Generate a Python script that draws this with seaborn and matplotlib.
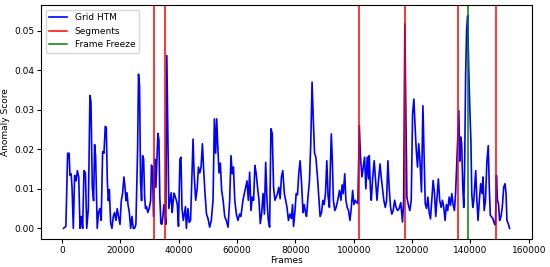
import pandas as pd
import matplotlib
matplotlib.use("Agg")
import matplotlib.pyplot as plt
import seaborn as sns

# Grid HTM anomaly score
frames = [
    500, 1300, 1900, 2400, 2700, 3100, 3400, 3850, 4300, 4800,
    5250, 5700, 6150, 6600, 7050, 7500, 8000, 8450, 9000, 9550,
    9900, 10350, 10800, 11150, 11500, 12050, 12500, 12950, 13400, 13900,
    14350, 14800, 15150, 15500, 15850, 16200, 16650, 17100, 17550, 18000,
    18450, 18900, 19350, 19850, 20300, 20750, 21200, 21550, 21900, 22250,
    22600, 23050, 23500, 23950, 24400, 24850, 25300, 25900, 26200, 26550,
    26900, 27250, 27600, 27950, 28300, 28600, 28950, 29400, 29850, 30350,
    30650, 31000, 31350, 31800, 32150, 32500, 32850, 33200, 33500, 33850,
    34200, 34550, 34900, 35250, 35550, 35900, 36250, 36600, 37000, 37400,
    37750, 38100, 38400, 38800, 39200, 39500, 39900, 40400, 40750, 41100,
    41550, 42000, 42300, 42600, 43150, 43600, 44050, 44900, 45250, 45800,
    46300, 46750, 47200, 47650, 48100, 48550, 49000, 49500, 50050, 50600,
    51150, 51750, 52200, 52650, 53000, 53400, 53800, 54250, 54700, 55200,
    55750, 56300, 56900, 57450, 57900, 58350, 58750, 59200, 59750, 60300,
    60850, 61300, 62000, 62700, 63400, 63850, 64300, 64750, 65200, 65650,
    66100, 66550, 67000, 67500, 67950, 68400, 68900, 69350, 69800, 70250,
    70700, 71150, 71600, 72050, 72500, 72950, 73400, 73850, 74300, 74750,
    75200, 75650, 76200, 76650, 77100, 77600, 78100, 78600, 79000, 79350,
    79800, 80250, 80700, 81150, 81600, 82050, 82600, 83000, 83450, 83800,
    84300, 84800, 85250, 85700, 86100, 86550, 87000, 87550, 88000, 88450,
    88950, 89400, 89850, 90300, 90750, 91200, 91650, 91950, 92300, 92650,
    93000, 93500, 93950, 94500, 95100, 95600, 96000, 96400, 96900, 97300,
    97750, 98200, 98700, 99150, 99600, 100050, 100500, 101000, 101400, 101900,
    102300, 102800, 103250, 103700, 104150, 104600, 105050, 105300, 105700, 106000,
    106500, 107000, 107500, 107950, 108450, 109000, 109400, 109850, 110300, 110800,
    111250, 111700, 112150, 112600, 113050, 113500, 114000, 114500, 115000, 115550,
    116100, 116700, 117100, 117500, 117850, 118200, 118700, 119200, 119700, 120150,
    120600, 121000, 121400, 121850, 122250, 122700, 123200, 123700, 124100, 124500,
    124950, 125400, 125850, 126300, 126750, 127200, 127650, 128100, 128550, 129000,
    129450, 129950, 130400, 130850, 131300, 131750, 132200, 132700, 133150, 133600,
    134050, 134500, 134900, 135250, 135600, 136000, 136350, 136700, 137000, 137350,
    137700, 138000, 138350, 138700, 139050, 139400, 139800, 140150, 140450, 140800,
    141150, 141450, 141800, 142200, 142600, 143050, 143500, 143950, 144300, 144700,
    145150, 145650, 146100, 146450, 146800, 147250, 147700, 148200, 148550, 148900,
    149250, 149600, 150000, 150450, 150900, 151400, 151850, 152200, 152500, 152950, 153400,
]
scores = [
    0.0, 0.0005, 0.019, 0.019, 0.0134, 0.0138, 0.0105, 0.0, 0.0134, 0.012,
    0.0146, 0.013, 0.0, 0.003, 0.0, 0.0146, 0.014, 0.0, 0.005, 0.0336,
    0.032, 0.0104, 0.007, 0.0212, 0.018, 0.0, 0.004, 0.005, 0.002, 0.0194,
    0.019, 0.0258, 0.0255, 0.012, 0.007, 0.0098, 0.0013, 0.0, 0.003, 0.004,
    0.002, 0.005, 0.003, 0.001, 0.007, 0.0089, 0.013, 0.0106, 0.007, 0.009,
    0.006, 0.004, 0.0, 0.003, 0.0, 0.0, 0.001, 0.0204, 0.039, 0.036,
    0.012, 0.007, 0.0184, 0.0175, 0.008, 0.005, 0.0055, 0.004, 0.005, 0.007,
    0.016, 0.015, 0.003, 0.0175, 0.0104, 0.0175, 0.024, 0.0224, 0.008, 0.0013,
    0.001, 0.003, 0.006, 0.004, 0.001, 0.0437, 0.024, 0.005, 0.007, 0.009,
    0.004, 0.007, 0.0089, 0.008, 0.007, 0.006, 0.0005, 0.0175, 0.018, 0.005,
    0.002, 0.004, 0.0055, 0.0, 0.005, 0.0015, 0.002, 0.0226, 0.014, 0.0071,
    0.010, 0.0155, 0.014, 0.0155, 0.0214, 0.0146, 0.0088, 0.0036, 0.0024, 0.0003,
    0.002, 0.0071, 0.0277, 0.019, 0.0277, 0.0204, 0.014, 0.0165, 0.0096, 0.0071,
    0.003, 0.002, 0.0003, 0.007, 0.0184, 0.0138, 0.0155, 0.0071, 0.0036, 0.002,
    0.0036, 0.003, 0.0071, 0.0096, 0.012, 0.0071, 0.0142, 0.0045, 0.0079, 0.0071,
    0.0159, 0.0138, 0.0104, 0.0071, 0.0012, 0.0036, 0.0088, 0.0036, 0.0167, 0.0071,
    0.002, 0.0003, 0.0252, 0.024, 0.0104, 0.0071, 0.0079, 0.0088, 0.0104, 0.0075,
    0.013, 0.0146, 0.0088, 0.0071, 0.0053, 0.002, 0.0036, 0.0025, 0.006, 0.0005,
    0.004, 0.0088, 0.0085, 0.014, 0.0171, 0.012, 0.004, 0.006, 0.004, 0.003,
    0.008, 0.012, 0.0214, 0.037, 0.028, 0.019, 0.018, 0.013, 0.008, 0.003,
    0.004, 0.0071, 0.006, 0.0088, 0.0171, 0.008, 0.0053, 0.015, 0.0239, 0.017,
    0.0071, 0.0045, 0.0053, 0.0071, 0.0096, 0.0071, 0.011, 0.0088, 0.0138, 0.0071,
    0.0053, 0.0045, 0.002, 0.0053, 0.0096, 0.006, 0.0071, 0.0065, 0.0063, 0.026,
    0.018, 0.013, 0.0155, 0.018, 0.01, 0.018, 0.0125, 0.0184, 0.01, 0.0071,
    0.013, 0.0171, 0.012, 0.0071, 0.012, 0.0163, 0.013, 0.01, 0.0071, 0.0053,
    0.0071, 0.0171, 0.01, 0.0053, 0.0036, 0.0045, 0.0071, 0.0053, 0.0045, 0.005,
    0.0065, 0.0016, 0.007, 0.0517, 0.029, 0.0079, 0.006, 0.0045, 0.0071, 0.0289,
    0.0327, 0.026, 0.02, 0.0155, 0.0214, 0.017, 0.0092, 0.031, 0.018, 0.0062,
    0.005, 0.0079, 0.004, 0.0024, 0.0071, 0.0121, 0.009, 0.003, 0.008, 0.0125,
    0.0071, 0.0053, 0.0071, 0.0053, 0.002, 0.006, 0.0045, 0.0079, 0.0058, 0.0088,
    0.006, 0.0045, 0.0088, 0.0155, 0.0221, 0.0298, 0.017, 0.0231, 0.0214, 0.0105,
    0.0053, 0.0155, 0.039, 0.0507, 0.0538, 0.0405, 0.0298, 0.0221, 0.0088, 0.0053,
    0.0071, 0.0105, 0.0146, 0.0071, 0.002, 0.0071, 0.0113, 0.0088, 0.013, 0.0045,
    0.0071, 0.0171, 0.0209, 0.0105, 0.0033, 0.0029, 0.0024, 0.0012, 0.0008, 0.0134,
    0.0071, 0.0062, 0.002, 0.0029, 0.0053, 0.0104, 0.0113, 0.0088, 0.002, 0.0012, 0.0,
]

segment_frames = [31500, 35400, 101700, 117400, 135600, 148600]
freeze_frames = [139000]

assert len(frames) == len(scores)
df = pd.DataFrame({"frame": frames, "score": scores})

plt.rcParams["font.size"] = 6.5

fig, ax = plt.subplots(figsize=(5.5, 2.67), dpi=100)
fig.subplots_adjust(left=0.075, right=0.967, top=0.981, bottom=0.105)

sns.lineplot(data=df, x="frame", y="score", ax=ax, color="blue",
             linewidth=1.2, estimator=None, sort=False, label="Grid HTM")

for i, f in enumerate(segment_frames):
    ax.axvline(f, color="red", linewidth=1.1,
               label="Segments" if i == 0 else None)
for f in freeze_frames:
    ax.axvline(f, color="green", linewidth=1.1, label="Frame Freeze")

ax.set_xlabel("Frames", labelpad=1)
ax.set_ylabel("Anomaly Score", labelpad=3)
ax.tick_params(labelsize=6.5, length=3, pad=2)
ax.legend(loc="upper left", fontsize=6.5)

fig.savefig("out.png", dpi=100)
